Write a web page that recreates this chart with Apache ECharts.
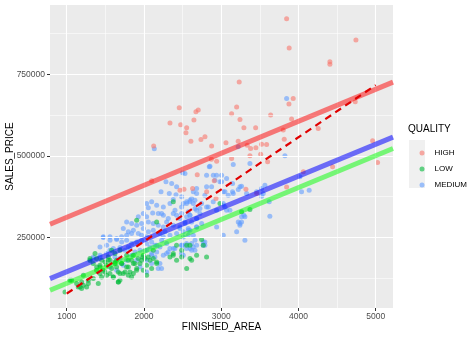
<!DOCTYPE html>
<html><head><meta charset="utf-8">
<script src="https://cdn.jsdelivr.net/npm/echarts@6/dist/echarts.min.js"></script>
<style>html,body{margin:0;padding:0;background:#fff}#c{width:474px;height:338px}</style>
</head><body><div id="c"></div>
<script>
const xTicks = [1000, 2000, 3000, 4000, 5000];
const xMinor = [1500, 2500, 3500, 4500];
const yTicks = [250000, 500000, 750000];
const yMinor = [125000, 375000, 625000, 875000];
const categories = ['HIGH', 'LOW', 'MEDIUM'];

const highPts = [[2457,647600],[2673,635300],[2703,640500],[2647,609800],[2337,600600],[2475,595400],[2553,586200],[2544,570900],[2608,545400],[2738,550600],[2790,558600],[2876,530100],[2126,530100],[2941,484000],
[3932,676400],[3877,658900],[3200,649700],[3135,629200],[3640,625200],[3243,612000],[3911,612900],[3294,586200],[3446,586200],[3803,579200],[4256,584400],[3816,551500],[3062,540200],[3220,545400],[3337,533100],[3381,523000],[3449,524900],[3523,536200],[3588,535300],[3135,492300],[3372,500300],[3511,505500],[3601,482000],
[3847,920600],[4744,855200],[3880,830700],[4407,788700],[4407,780700],[3233,726400],[4735,666000],[4960,546300],[5024,480100],[4442,466600],[2873,490200],
[2690,442000],[2910,423600],[3320,398200],[2518,398200],[2630,400300],[2812,389900],[3847,405200],[4063,451200],[3459,385000],[2933,369600],[2100,423600],[2466,395100]];

const lowPts = [[978,83200],[1043,119000],[1194,113900],[1173,98500],[1280,108800],[1216,134300],[1302,180400],[1367,200800],[1388,185500],[1431,165000],[1474,149700],[1518,134300],[1582,154800],[1625,170100],[1604,129200],[1669,113900],[1690,139500],[1755,144600],[1798,134300],[1863,139500],[1906,154800],[1949,170100],[1992,149700],[2035,165000],[2078,180400],[2121,185500],[2165,170100],[2337,190600],[2380,200800],[2423,180400],[2488,190600],[2553,154800],[2596,185500],[2682,195700],[1906,303000],[2165,297900],[2380,359300],[1625,200800],[1690,211000],[1776,195700],[1841,180400],[1927,185500],[1992,195700],[2057,190600],[2121,211000],[1496,175200],[1539,190600],[1453,180400],[1388,159900],[1431,139500],[1561,180400],[1647,180400],[1712,170100],[1798,159900],[1863,170100],[1970,180400],[2035,134300],[2100,154800],[2488,211000],[2553,226400],
[1982,190600],[2013,185500],[2164,175300],[2379,195700],[2617,180400],[2811,190600],[2422,226400],[2595,226400],[2746,243800],[2984,354200],[3264,328600],[3372,335800],[2768,226400],
[1064,119000],[1129,108800],[1150,98600],[1193,93500],[1215,103700],[1280,119000],[1301,185500],[1344,170200],[1387,149700],[1431,159900],[1452,129200],[1495,144600],[1517,165000],[1538,180400],[1582,211000],[1625,175300],[1646,159900],[1668,144600],[1689,119000],[1711,170200],[1732,139500],[1776,159900],[1797,180400],[1819,144600],[1840,129200],[1862,195700],[1883,170200],[1905,149700],[1668,113900],[1603,129200],[1560,139500],[1409,108800],[1344,124100],[1258,98600]];

const medPts = [[2501,448200],[2285,420600],[2359,415500],[2221,390000],[2328,384900],[2415,380800],[2380,366400],[2488,374600],[2553,359300],[2596,364400],[2639,390000],[2682,400200],
[2035,354200],[2100,359300],[2165,349100],[2251,343900],[2337,354200],[2402,333700],[2488,343900],[2574,328600],[2661,338800],[2639,354200],
[1992,323500],[1927,313300],[2035,313300],[2113,325500],[2186,323500],[2251,318400],[2315,308200],[2380,323500],[2466,308200],[2553,313300],[2617,297900],[2682,308200],
[1776,297900],[1841,292800],[1906,287700],[1970,292800],[2057,297900],[2121,292800],[2186,287700],[2251,282600],[2294,297900],[2380,287700],[2466,282600],[2531,292800],[2596,272400],[2682,282600],
[1733,277500],[1798,267300],[1863,272400],[1927,262100],[1992,277500],[2057,267300],[2121,272400],[2208,262100],[2272,267300],[2337,257000],[2423,262100],[2510,251900],[2574,257000],[2661,241700],
[1474,249900],[1561,241700],[1647,243800],[1712,236600],[1776,241700],[1841,231500],[1906,236600],[1970,241700],[2035,231500],[2100,236600],[2165,226400],[2229,241700],[2294,231500],[2380,216100],[2488,226400],[2596,216100],[2682,226400],
[1431,221300],[1518,226400],[1604,216100],[1690,219200],[1755,211000],[1819,216100],[1884,205900],[1949,211000],[2035,211000],[2100,200800],[2165,205900],[2251,195700],[2315,205900],
[1345,190600],[1431,195700],[1518,200800],[1625,190600],[1690,185500],[1776,180400],[1841,195700],[1906,180400],
[1302,180400],[1561,159900],[1647,149700],[1733,165000],[1949,159900],[2035,144600],
[2846,466700],[2940,441100],[3005,441100],[3070,430900],[3147,415500],[3147,390000],[2919,425800],[2984,420600],[2811,405300],[2876,405300],[3027,390000],[3091,379700],[3221,397100],[3264,407300],[3329,384900],[3566,410400],[3523,400200],[3544,384900],[4019,436000],[4040,390000],[4139,395100],[3622,359300],[3630,315300],[3221,297900],[3264,313300],[3307,313300],[3242,287700],[3307,241700],[3027,257000],[2789,236600],[2789,226400],[2574,277500],[2639,257000],[2488,226400],[2552,216100],[2617,211000],[2509,195700],[2660,211000],[2617,231500],[2488,323500],[2595,318400],[2682,333700],[2746,354200],[2833,343900],[2897,359300],[2940,333700],[3027,349100],[2725,338800],[2552,354200],[2617,369500],[2682,384900],[2789,379800],[3070,333700],[3113,333700],[3523,376700],[3458,390000],
[2013,211000],[2077,221300],[2142,226400],[2207,221300],[2336,216200],[2401,216200],[2509,226400],[2552,231500],[2638,221300],[2767,236600],[2767,226400],[2034,180400],[2099,170100],[2207,170100],[2185,154800],[2228,154800],[2293,200800],[2487,200800],[2099,195700],[2142,190600],[1970,257100],[2034,252000],[2250,252000],[2509,267300],
[1474,252000],[1560,252000],[1646,246800],[1711,252000],[1776,257100],[1840,262200],[1344,185500],[1431,190600],[1560,211000],[1797,221300],
[2855,468700],[2531,446200],[2811,441100],[2898,441100],[2423,405300],[3006,420600],[3049,390000],[3156,384900],[3243,405300],[2510,354200],[2596,359300],[2660,364400],[2811,343900],[3049,343900],[3027,354200],[3243,292800],[3294,318400],[2725,323500],[2596,318400],[2682,308200],[2747,292800],[2423,318400],[2531,297900],[2466,277500],[2574,272400],[2682,282600],[2941,282600],[3200,267300],[3264,297900],
[2057,340900],[2229,323500],
[3847,676400],[2134,521800],[3220,528000],[3825,500300],[3372,477000],[3156,474000]];

const highFit = [[784,290800],[5224,726400]];
const medFit = [[784,124200],[5224,557700]];
const lowFit = [[784,88300],[5224,523000]];
const overallFit = [[1000,78000],[5000,717000]];

const FONT = 'Liberation Sans, Arial, Helvetica, sans-serif';
const cols = {HIGH:'#F8766D', LOW:'#00BA38', MEDIUM:'#619CFF'};
const PT_OP = 0.6;

const gridLines = [];
xTicks.forEach(v => gridLines.push({xAxis: v, lineStyle:{color:'#fff', width:1.1, type:'solid'}}));
xMinor.forEach(v => gridLines.push({xAxis: v, lineStyle:{color:'#fff', width:0.55, type:'solid'}}));
yTicks.forEach(v => gridLines.push({yAxis: v, lineStyle:{color:'#fff', width:1.1, type:'solid'}}));
yMinor.forEach(v => gridLines.push({yAxis: v, lineStyle:{color:'#fff', width:0.55, type:'solid'}}));

const chart = echarts.init(document.getElementById('c'), null, {renderer:'canvas'});
function scat(name, data){
  return {name, type:'scatter', data, symbol:'circle', symbolSize:5, z:3,
    itemStyle:{color:cols[name], opacity:PT_OP}, emphasis:{disabled:true}, silent:true};
}
function fit(name, data, color, width, op, dash){
  return {name, type:'line', data, symbol:'none', z: dash?6:5, silent:true,
    lineStyle:{color, width, opacity:op, type: dash || 'solid', cap:'butt'}, emphasis:{disabled:true}};
}
chart.setOption({
  animation:false,
  textStyle:{fontFamily:FONT},
  title:{text:'QUALITY', left:408, top:124, padding:0, textStyle:{fontSize:10, fontWeight:'normal', color:'#000', fontFamily:FONT}},
  legend:{orient:'vertical', left:414.5, top:140, itemWidth:5, itemHeight:5, itemGap:0, icon:'circle', selectedMode:false,
    data: categories.map(c => ({name:c, itemStyle:{color:cols[c], opacity:PT_OP}})),
    textStyle:{fontSize:8, color:'#000', lineHeight:16, padding:[0,0,0,5], fontFamily:FONT}},
  graphic:[{type:'rect', left:409, top:140, shape:{width:16, height:48}, style:{fill:'#F0F0F0'}, z:0, silent:true}],
  grid:{left:50, right:81, top:5, bottom:30, show:true, backgroundColor:'#EBEBEB', borderWidth:0,
    containLabel:false, outerBoundsMode:'none'},
  xAxis:{type:'value', min:784, max:5224, name:'FINISHED_AREA', nameLocation:'middle', nameGap:14, nameMoveOverlap:false,
    nameTextStyle:{fontSize:10, color:'#000', fontFamily:FONT},
    axisLine:{show:false}, splitLine:{show:false},
    axisTick:{show:true, length:3, customValues:xTicks, lineStyle:{color:'#333', width:1}},
    axisLabel:{customValues:xTicks, fontSize:8.5, color:'#4D4D4D', margin:4, formatter:v=>String(v), fontFamily:FONT}},
  yAxis:{type:'value', min:34000, max:962600, name:'SALES_PRICE', nameLocation:'middle', nameGap:35, nameMoveOverlap:false,
    nameTextStyle:{fontSize:10, color:'#000', fontFamily:FONT},
    axisLine:{show:false}, splitLine:{show:false},
    axisTick:{show:true, length:3, customValues:yTicks, lineStyle:{color:'#333', width:1}},
    axisLabel:{customValues:yTicks, fontSize:8.5, color:'#4D4D4D', margin:5, formatter:v=>String(v), fontFamily:FONT}},
  series:[
    {name:'grid', type:'line', data:[], z:1, silent:true,
      markLine:{silent:true, symbol:['none','none'], label:{show:false}, animation:false, data:gridLines}},
    scat('MEDIUM', medPts),
    scat('LOW', lowPts),
    scat('HIGH', highPts),
    fit('HIGH fit', highFit, '#FF0000', 5, 0.5),
    fit('MEDIUM fit', medFit, '#0000FF', 5, 0.55),
    fit('LOW fit', lowFit, '#00FF00', 5, 0.5),
    fit('All fit', overallFit, '#E00000', 2.2, 1, [7,5])
  ]
});
</script></body></html>
